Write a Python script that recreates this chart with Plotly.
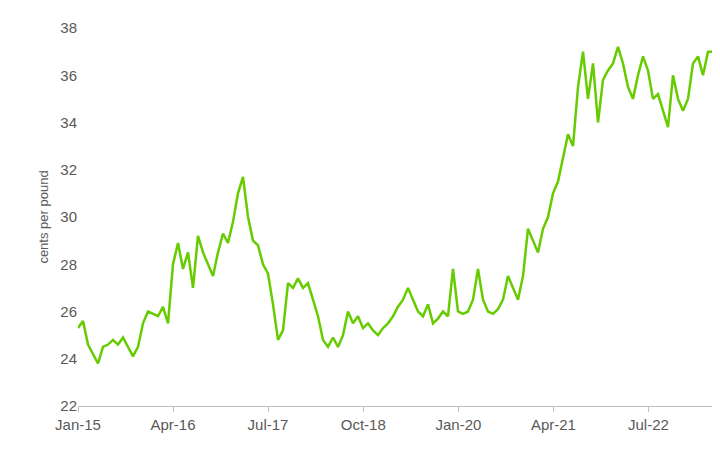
import pandas as pd
import plotly.graph_objects as go

values = [25.3,25.6,24.6,24.2,23.8,24.5,24.6,24.8,24.6,24.9,24.5,24.1,24.5,25.5,26.0,25.9,25.8,26.2,25.5,28.0,
          28.9,27.8,28.5,27.0,29.2,28.5,28.0,27.5,28.5,29.3,28.9,29.8,31.0,31.7,30.0,29.0,28.8,28.0,27.6,26.3,
          24.8,25.2,27.2,27.0,27.4,27.0,27.2,26.5,25.8,24.8,24.5,24.9,24.5,25.0,26.0,25.5,25.8,25.3,25.5,25.2,
          25.0,25.3,25.5,25.8,26.2,26.5,27.0,26.5,26.0,25.8,26.3,25.5,25.7,26.0,25.8,27.8,26.0,25.9,26.0,26.5,
          27.8,26.5,26.0,25.9,26.1,26.5,27.5,27.0,26.5,27.5,29.5,29.0,28.5,29.5,30.0,31.0,31.5,32.5,33.5,33.0,
          35.5,37.0,35.0,36.5,34.0,35.8,36.2,36.5,37.2,36.5,35.5,35.0,36.0,36.8,36.2,35.0,35.2,34.5,33.8,36.0,
          35.0,34.5,35.0,36.5,36.8,36.0,37.0,37.0]
dates = pd.date_range("2015-01-01", periods=len(values), freq="24D")
tick_dates = ["2015-01-01","2016-04-01","2017-07-01","2018-10-01","2020-01-01","2021-04-01","2022-07-01"]
tick_labels = ["Jan-15","Apr-16","Jul-17","Oct-18","Jan-20","Apr-21","Jul-22"]

fig = go.Figure(go.Scatter(x=dates, y=values, mode="lines",
                           line=dict(color="#66cc00", width=2.5)))
fig.update_layout(width=720, height=455, margin=dict(l=70, r=15, t=11, b=57),
                  plot_bgcolor="white", paper_bgcolor="white", showlegend=False,
                  font=dict(family="Liberation Sans, Arial", color="#595959", size=15))
fig.update_xaxes(range=[dates[0], dates[-1]], tickvals=tick_dates, ticktext=tick_labels,
                 showgrid=False, showline=True, linecolor="#bfbfbf", ticks="outside",
                 tickcolor="#bfbfbf", ticklen=5, zeroline=False)
fig.update_yaxes(range=[22, 38], dtick=2, showgrid=False, zeroline=False,
                 title=dict(text="cents per pound", font=dict(size=13), standoff=8))
fig.write_html("out.html")
